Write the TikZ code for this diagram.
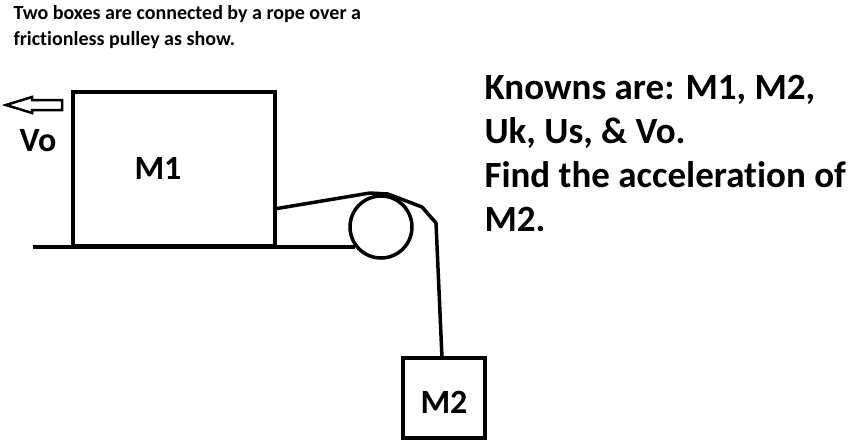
\documentclass[tikz,border=0pt]{standalone}
\usepackage{fontspec}
\setmainfont[RawFeature={-liga}]{Carlito}
\begin{document}
\begin{tikzpicture}[x=1pt,y=-1pt,
  body/.style={draw,line width=4pt,inner sep=0pt},
  lab/.style={font=\bfseries\fontsize{34}{40}\selectfont},
  big/.style={font=\bfseries\fontsize{37}{44}\selectfont},
  small/.style={font=\bfseries\fontsize{20}{26}\selectfont}]
\useasboundingbox (0,0) rectangle (850,445);
\node[body,minimum width=202pt,minimum height=154pt] (m1) at (174,169) {};
\node[lab] (m1l) at (158,168) {M1};
\node[body,minimum width=82pt,minimum height=80pt] (m2) at (444,398) {};
\node[lab] (m2l) at (444,402) {M2};
\coordinate (g1) at (33,247);
\coordinate (g2) at (355,247);
\draw[line width=3.5pt] (g1) -- (g2);
\node[draw,circle,line width=3.5pt,minimum size=62pt,inner sep=0pt] (p) at (381,227) {};
\coordinate (r1) at (274,209);
\draw[line width=3.5pt,line join=round] (r1) -- (370,193) -- (388,194) -- (422,207) -- (436,223) -- (442,358);
\draw[line width=2.5pt,line join=miter] (62,100) -- (32,100) -- (32,97) -- (6,105) -- (32,113) -- (32,110) -- (62,110) -- cycle;
\node[lab] (vo) at (38,141) {Vo};
\node[small,anchor=north west,align=left] (t) at (10,2) {Two boxes are connected by a rope over a\\frictionless pulley as show.};
\node[big,anchor=north west,align=left,font=\bfseries\fontsize{37}{44}\selectfont] (k) at (481,72) {Knowns are: M1, M2,\\Uk, Us, \& Vo.\\Find the acceleration of\\M2.};
\end{tikzpicture}
\end{document}
